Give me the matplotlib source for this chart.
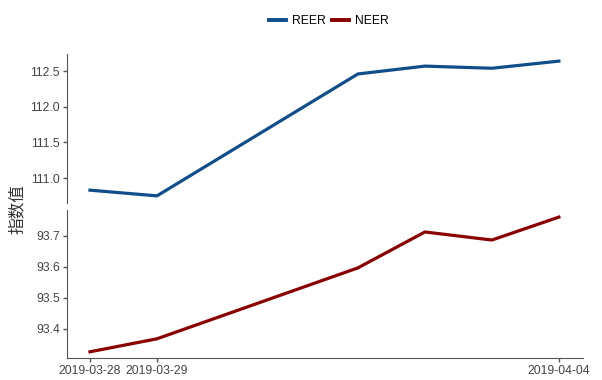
import matplotlib
matplotlib.use("Agg")
import matplotlib.pyplot as plt
import matplotlib.dates as mdates
import numpy as np
from datetime import datetime, timedelta

plt.rcParams['font.family'] = ['Liberation Sans', 'Noto Sans CJK SC', 'DejaVu Sans']

# data
dates = ["2019-03-28", "2019-03-29", "2019-04-01", "2019-04-02", "2019-04-03", "2019-04-04"]
reer = [110.83, 110.75, 112.46, 112.57, 112.54, 112.64]
neer = [93.326, 93.368, 93.597, 93.713, 93.687, 93.761]
tick_dates = ["2019-03-28", "2019-03-29", "2019-04-04"]

x = [datetime.strptime(d, "%Y-%m-%d") for d in dates]
xt = [datetime.strptime(d, "%Y-%m-%d") for d in tick_dates]

blue = "#104E8B"
red = "#8B0000"
grey = "#555555"

fig = plt.figure(figsize=(6.02, 3.80), dpi=100)
ax1 = fig.add_axes([0.1113, 0.4658, 0.8571, 0.3921])
ax2 = fig.add_axes([0.1113, 0.0579, 0.8571, 0.3895])

l1, = ax1.plot(x, reer, color=blue, lw=2.3, label="REER")
l2, = ax2.plot(x, neer, color=red, lw=2.3, label="NEER")

xmin = x[0] - timedelta(days=0.343)
xmax = x[-1] + timedelta(days=0.36)
for ax in (ax1, ax2):
    ax.set_xlim(xmin, xmax)
    ax.spines['top'].set_visible(False)
    ax.spines['right'].set_visible(False)
    ax.spines['left'].set_color(grey)
    ax.spines['bottom'].set_color(grey)
    ax.tick_params(colors=grey, labelcolor="#444444", labelsize=8.7, length=3, width=1, pad=2)

ax1.set_ylim(110.65, 112.74)
ax1.set_yticks([111.0, 111.5, 112.0, 112.5])
ax1.yaxis.set_major_formatter(matplotlib.ticker.FormatStrFormatter('%.1f'))
ax1.spines['bottom'].set_visible(False)
ax1.set_xticks([])

ax2.set_ylim(93.306, 93.784)
ax2.set_yticks([93.4, 93.5, 93.6, 93.7])
ax2.yaxis.set_major_formatter(matplotlib.ticker.FormatStrFormatter('%.1f'))
ax2.set_xticks(xt)
ax2.xaxis.set_major_formatter(mdates.DateFormatter("%Y-%m-%d"))

fig.text(0.028, 0.45, "指数值", rotation=90, va='center', ha='center',
         fontsize=12, color="#333333", family=['Noto Sans CJK SC'])

fig.legend(handles=[l1, l2], loc='center', bbox_to_anchor=(0.546, 0.944), ncol=2,
           frameon=False, fontsize=8.7, handlelength=1.45, handletextpad=0.45,
           columnspacing=0.5)
for h in fig.legends[0].get_lines():
    h.set_linewidth(2.8)

fig.savefig("out.png", dpi=100)
